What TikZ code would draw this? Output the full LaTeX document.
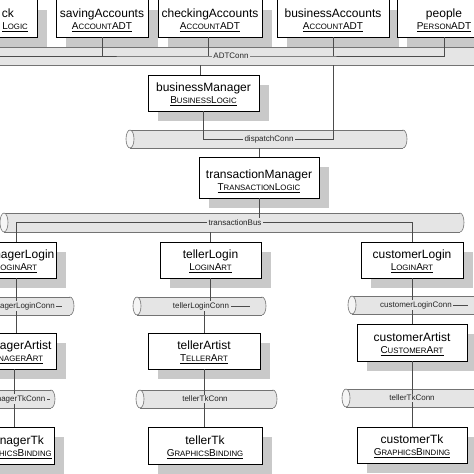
\documentclass[tikz,border=0pt]{standalone}
\usepackage{fontspec}
\setmainfont{Liberation Sans}
\newcommand\sm[1]{{\fontsize{7.8}{9}\selectfont #1}}
\tikzset{
  shadowc/.style={fill=black!21},
  compbox/.style={draw=black, line width=0.9pt, fill=white, inner sep=0pt},
  ttl/.style={inner sep=0pt, anchor=base, font=\fontsize{12}{14}\selectfont},
  typ/.style={inner sep=0pt, anchor=base, font=\fontsize{10}{12}\selectfont},
  pipebody/.style={fill=black!10},
  pipeedge/.style={draw=black!55, line width=0.6pt},
  plabel/.style={fill=black!10, inner sep=1.5pt, font=\fontsize{8}{9}\selectfont, text=black!85},
  wire/.style={draw=black!70, line width=0.5pt},
}
% shadow of a component box
\newcommand\shad[4]{\fill[shadowc] ({#1+10},{#2+10}) rectangle ({#3+10},{#4+10});}
% component box: name, x1, y1, x2, y2, title, type
\newcommand\comp[7]{%
  \node[compbox, minimum width={(#4)*1pt-(#2)*1pt}, minimum height={(#5)*1pt-(#3)*1pt}] (#1) at ({(#2+#4)/2},{(#3+#5)/2}) {};
  \node[ttl] (#1-t) at ({(#2+#4)/2},{#5-20}) {#6};
  \node[typ] (#1-y) at ({(#2+#4)/2},{#5-7.5}) {\underline{#7}};
}
% pipe: xL, xR, yT, yB
\newcommand\pipe[4]{%
  \filldraw[pipebody, pipeedge] ({#2-4},{(#3+#4)/2}) ellipse [x radius=4, y radius={(#4-#3)/2}];
  \fill[pipebody] (#1,#3) rectangle ({#2-4},#4);
  \draw[pipeedge] (#1,#3) -- ({#2-4},#3) (#1,#4) -- ({#2-4},#4);
  \filldraw[fill=black!4, pipeedge] (#1,{(#3+#4)/2}) ellipse [x radius=4, y radius={(#4-#3)/2}];
}
\begin{document}
\begin{tikzpicture}[x=1pt, y=-1pt]
\useasboundingbox (0,0) rectangle (474,474);
\clip (0,0) rectangle (474,474);
% shadows
\shad{-60}{-0.5}{37}{37}
\shad{56}{-0.5}{148}{37}
\shad{158}{-0.5}{262}{37}
\shad{277}{-0.5}{389}{37}
\shad{397}{-0.5}{491}{37}
\shad{148}{75}{259}{111}
\shad{199}{157}{319}{198}
\shad{-24}{242}{56}{278}
\shad{160}{242}{261}{278}
\shad{361}{242}{463}{278}
\shad{-28}{333}{56}{369}
\shad{148}{333}{260}{369}
\shad{357}{324}{467}{361}
\shad{-27}{427}{54}{464}
\shad{148}{427}{262}{464}
\shad{357}{427}{467}{463}
% pipes
\pipe{-20}{494}{47}{65}
\pipe{130}{407}{130}{148}
\pipe{4}{464}{213}{232}
\pipe{-120}{74}{297}{315}
\pipe{137}{266}{297}{315}
\pipe{352}{500}{296}{314}
\pipe{-120}{55}{390}{408}
\pipe{140}{277}{390}{408}
\pipe{346}{500}{389}{407}
% components
\comp{ck}{-60}{-0.5}{37}{37}{}{}
\node[ttl, anchor=base east] (ck-t) at (14,17) {ck};
\node[typ, anchor=base east] (ck-y) at (28,29.5) {\underline{L\sm{OGIC}}};
\comp{sav}{56}{-0.5}{148}{37}{savingAccounts}{A\sm{CCOUNT}ADT}
\comp{chk}{158}{-0.5}{262}{37}{checkingAccounts}{A\sm{CCOUNT}ADT}
\comp{bus}{277}{-0.5}{389}{37}{businessAccounts}{A\sm{CCOUNT}ADT}
\comp{ppl}{397}{-0.5}{491}{37}{people}{P\sm{ERSON}ADT}
\comp{bm}{148}{75}{259}{111}{businessManager}{B\sm{USINESS}L\sm{OGIC}}
\comp{tm}{199}{157}{319}{198}{transactionManager}{T\sm{RANSACTION}L\sm{OGIC}}
\comp{ml}{-24}{242}{56}{278}{managerLogin}{L\sm{OGIN}A\sm{RT}}
\comp{tl}{160}{242}{261}{278}{tellerLogin}{L\sm{OGIN}A\sm{RT}}
\comp{cl}{361}{242}{463}{278}{customerLogin}{L\sm{OGIN}A\sm{RT}}
\comp{ma}{-28}{333}{56}{369}{managerArtist}{M\sm{ANAGER}A\sm{RT}}
\comp{ta}{148}{333}{260}{369}{tellerArtist}{T\sm{ELLER}A\sm{RT}}
\comp{ca}{357}{324}{467}{361}{customerArtist}{C\sm{USTOMER}A\sm{RT}}
\comp{mt}{-27}{427}{54}{464}{managerTk}{G\sm{RAPHICS}B\sm{INDING}}
\comp{tt}{148}{427}{262}{464}{tellerTk}{G\sm{RAPHICS}B\sm{INDING}}
\comp{ct}{357}{427}{467}{463}{customerTk}{G\sm{RAPHICS}B\sm{INDING}}
% pipe labels (placed first as coordinates for wires)
\coordinate (adtL) at (0,56);
\coordinate (adtB) at (333,65);
\coordinate (adtc) at (231,56);
\coordinate (dispc) at (269,139);
\coordinate (tbusc) at (235,222.5);
\coordinate (tlcc) at (201,306);
\coordinate (clcc) at (416,305);
% wires
\draw[wire] (sav.south) -- (sav.south |- adtc);
\draw[wire] ([xshift=-2pt]chk.south) -- ([xshift=-2pt]chk.south |- adtc);
\draw[wire] (bus.south) -- (bus.south |- adtc);
\draw[wire] (adtL) -- (adtc) -- (ppl.south |- adtc) -- (ppl.south);
\draw[wire] ([xshift=-3.5pt]bm.north) -- ++(0,-10);
\draw[wire] (adtB) -- (adtB |- dispc) -- (dispc);
\draw[wire] (bm.south) -- (bm.south |- dispc) -- (dispc);
\draw[wire] (tm.north) -- ++(0,-9);
\draw[wire] (tm.south) -- (tm.south |- tbusc);
\draw[wire] (ml.north) -- (ml.north |- tbusc) -- (tbusc) -- (cl.north |- tbusc) -- (cl.north);
\draw[wire] (tl.north) -- ++(0,-10);
\draw[wire] (ml.south) -- (ml.south |- ma.north);
\draw[wire] (tl.south) -- (tl.south |- tlcc);
\draw[wire] (ta.north) -- (ta.north |- tlcc);
\draw[wire] (tlcc) -- ++(49,0);
\draw[wire] (cl.south) -- (ca.north);
\draw[wire] (clcc) -- ++(52,0);
\draw[wire] (ma.south) -- (ma.south |- mt.north);
\draw[wire] (ta.south) -- (ta.south |- tt.north);
\draw[wire] (ca.south) -- (ct.north);
\draw[wire] (30,306) -- (62,306);
\draw[wire] (30,399) -- (50,399);
% labels
\node[plabel] (adt) at (adtc) {ADTConn};
\node[plabel] (disp) at (dispc) {dispatchConn};
\node[plabel] (tbus) at (tbusc) {transactionBus};
\node[plabel, anchor=east] (mlc) at (56.5,306) {managerLoginConn};
\node[plabel] (tlc) at (tlcc) {tellerLoginConn};
\node[plabel] (clc) at (clcc) {customerLoginConn};
\node[plabel, anchor=east] (mtc) at (47,399) {managerTkConn};
\node[plabel] (ttc) at (205,399) {tellerTkConn};
\node[plabel] (ctc) at (412,398) {tellerTkConn};
\end{tikzpicture}
\end{document}
